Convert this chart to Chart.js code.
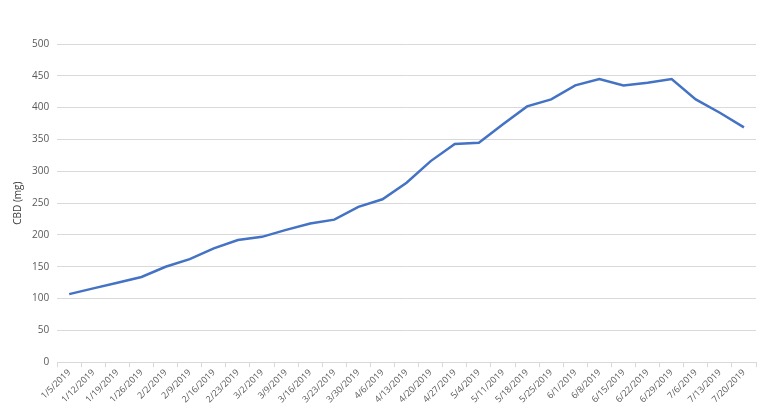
<!DOCTYPE html>
<html>
<head>
<meta charset="utf-8">
<script src="https://cdn.jsdelivr.net/npm/chart.js@4"></script>
<style>
  html, body { margin: 0; padding: 0; background: #fff; }
  #wrap { width: 768px; height: 416px; }
</style>
</head>
<body>
<div id="wrap"><canvas id="graficoCbd"></canvas></div>
<script>
const semanas = [
  "1/5/2019", "1/12/2019", "1/19/2019", "1/26/2019", "2/2/2019", "2/9/2019",
  "2/16/2019", "2/23/2019", "3/2/2019", "3/9/2019", "3/16/2019", "3/23/2019",
  "3/30/2019", "4/6/2019", "4/13/2019", "4/20/2019", "4/27/2019", "5/4/2019",
  "5/11/2019", "5/18/2019", "5/25/2019", "6/1/2019", "6/8/2019", "6/15/2019",
  "6/22/2019", "6/29/2019", "7/6/2019", "7/13/2019", "7/20/2019"
];
const cbdMg = [
  107, 116, 125, 134, 150, 162, 179, 192, 197, 208, 218, 224,
  244, 256, 282, 316, 343, 345, 374, 402, 413, 435, 445, 435,
  439, 445, 413, 392, 369
];
const eixoY = { min: 0, max: 500, passo: 50 };

const fonte = "'Open Sans', 'Liberation Sans', sans-serif";

new Chart(document.getElementById("graficoCbd"), {
  type: "line",
  data: {
    labels: semanas,
    datasets: [
      {
        label: "CBD (mg)",
        data: cbdMg,
        borderColor: "#4472C4",
        borderWidth: 2.5,
        pointRadius: 0,
        tension: 0,
        fill: false,
      },
    ],
  },
  options: {
    responsive: true,
    maintainAspectRatio: false,
    animation: false,
    layout: { padding: { top: 44, right: 12, left: 6, bottom: 11 } },
    plugins: {
      legend: { display: false },
      tooltip: { enabled: false },
    },
    scales: {
      x: {
        offset: true,
        grid: {
          offset: true,
          drawOnChartArea: false,
          drawTicks: true,
          tickLength: 5,
          color: "#d9d9d9",
        },
        border: { color: "#d9d9d9", width: 1 },
        ticks: {
          minRotation: 45,
          maxRotation: 45,
          autoSkip: false,
          color: "#595959",
          font: { family: fonte, size: 9 },
          padding: 0,
        },
      },
      y: {
        min: eixoY.min,
        max: eixoY.max,
        ticks: {
          stepSize: eixoY.passo,
          color: "#595959",
          font: { family: fonte, size: 10 },
          padding: 8,
        },
        grid: { color: "#d9d9d9", drawTicks: false },
        border: { display: false },
        title: {
          display: true,
          text: "CBD (mg)",
          color: "#404040",
          font: { family: fonte, size: 10 },
          padding: { top: 6, bottom: 0 },
        },
      },
    },
  },
});
</script>
</body>
</html>
